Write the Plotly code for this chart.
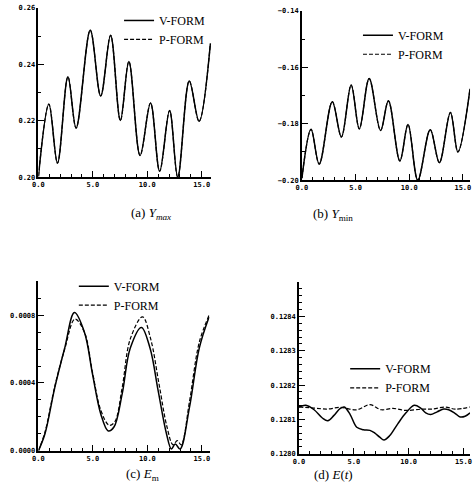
import plotly.graph_objects as go

# (a) Y_max  -- the two formulations coincide
t_ymax = [0.0, 0.96, 1.75, 2.71, 3.46, 4.76, 5.72, 6.63, 7.53, 8.31,
          9.34, 10.3, 11.14, 12.05, 12.8, 13.86, 14.76, 15.8]
ymax_v = [0.2003, 0.2259, 0.2050, 0.2356, 0.2174, 0.2521, 0.2288, 0.2503, 0.2201, 0.2410,
          0.2077, 0.2263, 0.2021, 0.2236, 0.2000, 0.2341, 0.2198, 0.2474]
ymax_p = ymax_v

# (b) Y_min
t_ymin = [0.0, 0.85, 1.61, 2.83, 3.68, 4.59, 5.35, 6.27, 7.33, 8.06,
          9.13, 9.89, 10.8, 11.96, 12.81, 13.84, 14.54, 15.67]
ymin_v = [-0.1993, -0.1820, -0.1943, -0.1722, -0.1847, -0.1663, -0.1818, -0.1640, -0.1824, -0.1719,
          -0.1932, -0.1803, -0.2000, -0.1821, -0.1938, -0.1760, -0.1900, -0.1676]
ymin_p = ymin_v

# (c) E_m
t_em_v = [0.0, 0.6, 1.5, 2.41, 3.3, 4.22, 4.97, 5.72, 6.4, 6.93, 7.68,
          8.43, 9.45, 10.24, 10.99, 11.75, 12.2, 12.56, 13.0, 13.86, 14.76, 15.66]
em_v = [0.0, 0.0001, 0.000373, 0.000606, 0.000816, 0.0007, 0.00045, 0.000217, 0.000117, 0.00014, 0.000334,
        0.000606, 0.000728, 0.000606, 0.000353, 0.0001, 0.00001, 0.00004, 0.00001, 0.000256, 0.000606, 0.00079]
t_em_p = [0.0, 0.6, 1.5, 2.41, 3.35, 4.22, 4.97, 5.72, 6.5, 7.0, 7.68,
          8.43, 9.55, 10.3, 11.05, 11.8, 12.35, 12.74, 13.1, 13.86, 14.76, 15.66]
em_p = [0.0, 0.00011, 0.00038, 0.0006, 0.000777, 0.0007, 0.00046, 0.00024, 0.00015, 0.00017, 0.00037,
        0.00066, 0.00079, 0.00066, 0.0004, 0.00014, 0.000035, 0.00006, 0.000035, 0.00029, 0.00064, 0.0008]

# (d) E(t)
t_e_v = [0.0, 0.63, 1.38, 2.13, 2.63, 3.17, 3.77, 4.13, 4.67, 5.27, 5.87, 6.47, 6.92, 7.37, 7.75,
         8.26, 9.01, 9.76, 10.51, 11.1, 11.56, 12.0, 12.6, 13.2, 13.65, 14.25, 14.7, 15.15, 15.6]
e_v = [0.128136, 0.128141, 0.128128, 0.128104, 0.128096, 0.128111, 0.128132, 0.128136, 0.128114,
       0.128077, 0.12807, 0.128068, 0.12806, 0.128048, 0.12804, 0.128052, 0.128087, 0.128119,
       0.128141, 0.128133, 0.128119, 0.128114, 0.128122, 0.12813, 0.128128, 0.128117, 0.128107,
       0.128109, 0.128119]
t_e_p = [0.0, 1.38, 2.57, 3.77, 5.27, 6.47, 7.5, 8.56, 9.76, 11.26, 12.15, 13.35, 14.25, 15.6]
e_p = [0.128136, 0.128133, 0.12813, 0.128135, 0.128128, 0.128143, 0.128128, 0.128132,
       0.128126, 0.12813, 0.12813, 0.128136, 0.12813, 0.128136]

W, H = 474, 500
tick_font = dict(family="DejaVu Sans Mono", size=7, color="black", weight="bold")
serif = "Liberation Serif"

panels = [
    # t_v, v, t_p, p, x px, y px (top, bottom), x max, y range, dtick, minor, fmt, caption, caption pos
    (t_ymax, ymax_v, t_ymax, ymax_p, (33, 209), (4, 176), 15.9, (0.20, 0.26), 0.02, 0.01, ".2f",
     "(a) <i>Y<sub>max</sub></i>", (125, 213)),
    (t_ymin, ymin_v, t_ymin, ymin_p, (301, 472), (7, 179), 15.67, (-0.20, -0.14), 0.02, 0.01, ".2f",
     "(b) <i>Y</i><sub>min</sub>", (355, 214)),
    (t_em_v, em_v, t_em_p, em_p, (33, 207), (282, 454), 15.7, (0.0, 0.000999), 0.0004, 0.0001, ".4f",
     "(c) <i>E</i><sub>m</sub>", (120, 489)),
    (t_e_v, e_v, t_e_p, e_p, (298, 472), (283, 457), 15.6, (0.1280, 0.128499), 0.0001, 0.00002, ".4f",
     "(d) <i>E</i>(<i>t</i>)", (355, 488)),
]

legend_pos = [(115, 2), (358, 17), (69, 272), (345, 356)]

fig = go.Figure()
layout = {}
for i, (tv, v, tp, p, xpx, ypx, xmax, yr, dt, mdt, fmt, cap, cpos) in enumerate(panels):
    n = "" if i == 0 else str(i + 1)
    lg = "legend" + n
    fig.add_trace(go.Scatter(
        x=tv, y=v, mode="lines", name="V-FORM", line=dict(color="black", width=1.5, shape="spline"),
        xaxis="x" + n, yaxis="y" + n, legend=lg))
    fig.add_trace(go.Scatter(
        x=tp, y=p, mode="lines", name="P-FORM",
        line=dict(color="black", width=1.2, shape="spline", dash="4px,2px"),
        xaxis="x" + n, yaxis="y" + n, legend=lg))

    axis_common = dict(
        showgrid=False, zeroline=False, showline=True, linecolor="black", linewidth=1.5,
        ticks="inside", ticklen=6, tickwidth=1, tickcolor="black", tickfont=tick_font,
        minor=dict(ticks="inside", ticklen=3, tickwidth=1, tickcolor="black"),
    )
    layout["xaxis" + n] = dict(
        axis_common, domain=[xpx[0] / W, xpx[1] / W], range=[0, xmax],
        anchor="y" + n, tick0=0, dtick=5, tickformat=".1f",
        minor=dict(axis_common["minor"], dtick=1))
    layout["yaxis" + n] = dict(
        axis_common, domain=[1 - ypx[1] / H, 1 - ypx[0] / H], range=list(yr),
        anchor="x" + n, tick0=yr[0], dtick=dt, tickformat=fmt,
        minor=dict(axis_common["minor"], dtick=mdt))
    layout[lg] = dict(
        x=legend_pos[i][0] / W, y=1 - legend_pos[i][1] / H, xanchor="left", yanchor="top",
        bgcolor="rgba(0,0,0,0)", font=dict(family=serif, size=12, color="black"),
        itemwidth=30, tracegroupgap=0)
    fig.add_annotation(
        text=cap, x=cpos[0] / W, y=1 - cpos[1] / H, xref="paper", yref="paper",
        showarrow=False, font=dict(family=serif, size=13, color="black"))

fig.update_layout(**layout)
fig.update_layout(
    width=W, height=H, margin=dict(l=0, r=0, t=0, b=0),
    paper_bgcolor="white", plot_bgcolor="white", showlegend=True,
)

fig.write_html("out.html", config={"displayModeBar": False},
               post_script="document.body.style.margin='0';")
